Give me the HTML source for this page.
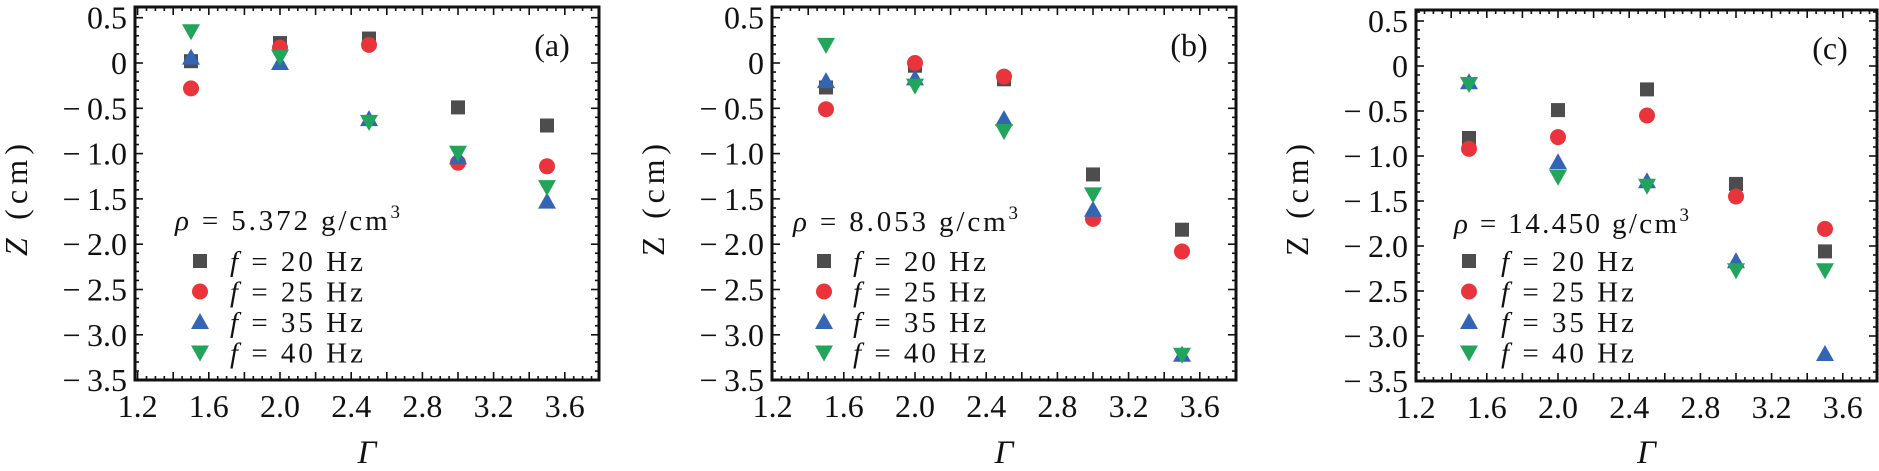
<!DOCTYPE html>
<html><head><meta charset="utf-8"><style>
html,body{margin:0;padding:0;background:#fff;}
svg{display:block;}
text{font-family:"Liberation Serif","DejaVu Serif",serif;fill:#111;}
</style></head><body>
<svg id="s" width="1879" height="471" xmlns="http://www.w3.org/2000/svg"></svg>
<script>
const S=document.getElementById('s');let h='';
const C={sq:'#4d4d4d',ci:'#e8343a',up:'#3465b5',dn:'#22a55a'};
function mk(t,x,y){
 if(t=='sq')return `<rect x="${x-7}" y="${y-7}" width="14" height="14" fill="${C.sq}"/>`;
 if(t=='ci')return `<circle cx="${x}" cy="${y}" r="8" fill="${C.ci}"/>`;
 if(t=='up')return `<polygon points="${x},${y-9} ${x+9},${y+7} ${x-9},${y+7}" fill="${C.up}"/>`;
 return `<polygon points="${x},${y+9} ${x+9},${y-7} ${x-9},${y-7}" fill="${C.dn}"/>`;
}
const P=[
 {L:135,R:599,T:7,B:380,x0:191,y0:63,ky:90.6,lab:'(a)',rho:'5.372',rx:175,ry:230,mx:200,tx:230,zi:true,
  d:{sq:[0.02,0.22,0.27,-0.49,-0.69],ci:[-0.28,0.17,0.2,-1.1,-1.14],up:[0.06,0.0,-0.62,-1.04,-1.53],dn:[0.35,0.07,-0.65,-0.99,-1.37]}},
 {L:772,R:1236,T:7,B:380,x0:826,y0:63,ky:90.6,lab:'(b)',rho:'8.053',rx:793,ry:231,mx:824,tx:853,zi:false,
  d:{sq:[-0.27,-0.03,-0.18,-1.23,-1.84],ci:[-0.51,0.0,-0.15,-1.72,-2.08],up:[-0.2,-0.17,-0.62,-1.62,-3.22],dn:[0.2,-0.25,-0.75,-1.45,-3.22]}},
 {L:1416,R:1877,T:10,B:381,x0:1469,y0:66,ky:90,lab:'(c)',rho:'14.450',rx:1454,ry:233,mx:1469,tx:1501,zi:false,
  d:{sq:[-0.8,-0.49,-0.26,-1.31,-2.06],ci:[-0.92,-0.79,-0.55,-1.45,-1.81],up:[-0.18,-1.07,-1.28,-2.17,-3.2],dn:[-0.2,-1.23,-1.33,-2.27,-2.27]}}
];
const G=[1.5,2.0,2.5,3.0,3.5];
for(const p of P){
 const X=v=>p.x0+(v-1.5)*178, Y=v=>p.y0-v*p.ky;
 for(let i=0;i<=52;i++){const v=1.2+i*0.05;const x=X(v);
  const maj=(i%4==0),len=maj?8:4;
  if(i%8==0)h+=`<text x="${x}" y="${p.B+37}" font-size="32" text-anchor="middle">${v.toFixed(1)}</text>`;
  if(x>p.R-2||x<p.L+2)continue;
  h+=`<line x1="${x}" y1="${p.B}" x2="${x}" y2="${p.B-len}" stroke="#111" stroke-width="1.6"/><line x1="${x}" y1="${p.T}" x2="${x}" y2="${p.T+len}" stroke="#111" stroke-width="1.6"/>`;}
 for(let i=-35;i<=7;i++){const v=i/10;const y=Y(v);
  const maj=(i%5==0),len=maj?8:4;
  if(maj){let s=i==0?'0':(i<0?'−\u2009':'')+Math.abs(v).toFixed(1);
   h+=`<text x="${p.L-8}" y="${y+11}" font-size="32" text-anchor="end">${s}</text>`;}
  if(y<p.T+2||y>p.B-2)continue;
  h+=`<line x1="${p.L}" y1="${y}" x2="${p.L+len}" y2="${y}" stroke="#111" stroke-width="1.6"/><line x1="${p.R}" y1="${y}" x2="${p.R-len}" y2="${y}" stroke="#111" stroke-width="1.6"/>`;}
 h+=`<rect x="${p.L}" y="${p.T}" width="${p.R-p.L}" height="${p.B-p.T}" fill="none" stroke="#111" stroke-width="3"/>`;
 h+=`<text x="${p.R-47}" y="${p.T+49}" font-size="32" text-anchor="middle">${p.lab}</text>`;
 h+=`<text transform="translate(${p.L-108},200) rotate(-90)" font-size="32" text-anchor="middle" textLength="112" lengthAdjust="spacing"><tspan font-style="${p.zi?'italic':'normal'}">Z</tspan> (cm)</text>`;
 h+=`<text x="${(p.L+p.R)/2}" y="463" font-size="33" font-style="italic" text-anchor="middle">Γ</text>`;
 for(const k of ['sq','ci','up','dn'])p.d[k].forEach((v,j)=>h+=mk(k,X(G[j]),Y(v)));
 const rw=p.rho.length>5?235:225;
 h+=`<text x="${p.rx}" y="${p.ry}" font-size="29" textLength="${rw}" lengthAdjust="spacing"><tspan font-style="italic">ρ</tspan> = ${p.rho} g/cm<tspan font-size="19" dy="-12">3</tspan></text>`;
 ['sq','ci','up','dn'].forEach((k,j)=>{const y=261+j*30.5;h+=mk(k,p.mx,y);
  h+=`<text x="${p.tx}" y="${y+10}" font-size="29" textLength="133" lengthAdjust="spacing"><tspan font-style="italic">f</tspan> = ${[20,25,35,40][j]} Hz</text>`;});
}
S.innerHTML=h;
</script>
</body></html>
